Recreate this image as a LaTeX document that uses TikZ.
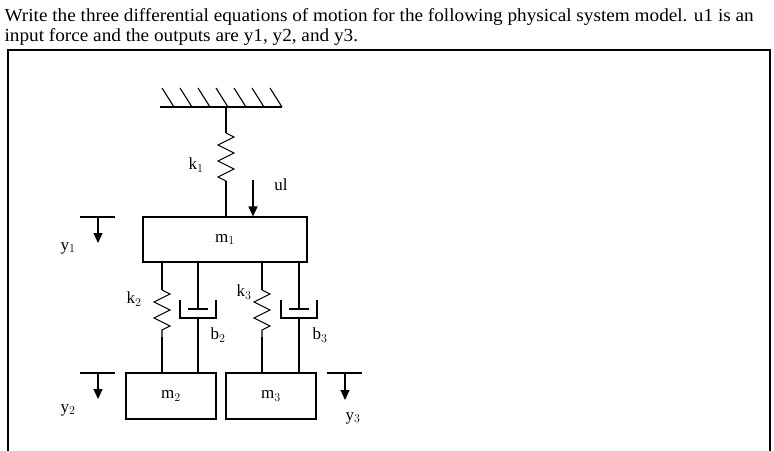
\documentclass[tikz,border=0pt]{standalone}
\usepackage{fontspec}
\setmainfont{Liberation Serif}
\usetikzlibrary{decorations.pathmorphing,arrows.meta}
\begin{document}
\begin{tikzpicture}[x=1pt,y=-1pt,line width=1.1pt,
  mass/.style={draw,inner sep=0pt,font=\fontsize{17}{17}\selectfont},
  lbl/.style={font=\fontsize{17}{17}\selectfont,inner sep=1pt},
  spr/.style={decorate,decoration={zigzag,amplitude=8pt,segment length=16pt}},
  arr/.style={-{Triangle[width=9pt,length=10pt]}},
  ttl/.style={anchor=west,font=\fontsize{18.4}{18.4}\selectfont,inner sep=0pt,xscale=1.045}]
\useasboundingbox (0,0) rectangle (774,450);
\node[ttl] (t1) at (4,17) {Write the three differential equations of motion for the following physical system model. u1 is an};
\node[ttl] (t2) at (4,37) {input force and the outputs are y1, y2, and y3.};
\draw (8,451) -- (8,50) -- (770,50) -- (770,451);
% ground
\coordinate (g1) at (160,107); \coordinate (g2) at (282,107);
\draw (g1) -- (g2);
\foreach \i in {0,...,6} \draw (162+18*\i,88) -- (174+18*\i,107);
% masses
\node[mass,minimum width=164pt,minimum height=45pt] (m1) at (225,239.5) {m$_1$};
\node[mass,minimum width=90pt,minimum height=46pt] (m2) at (171,396) {m$_2$};
\node[mass,minimum width=90pt,minimum height=46pt] (m3) at (271,396) {m$_3$};
% k1
\coordinate (k1t) at (226,107);
\draw (k1t) -- (226,133);
\draw[spr] (226,133) -- (226,181);
\draw (226,181) -- (m1.north -| 226,0);
\node[lbl] (k1) at (196,165) {k$_1$};
% u1
\coordinate (ua) at (253,180);
\draw[arr] (ua) -- (m1.north -| 253,0);
\node[lbl] (u1) at (281,185) {ul};
% y1
\coordinate (y1a) at (80,217); \coordinate (y1b) at (115,217);
\draw (y1a) -- (y1b); \draw[arr] (98,217) -- (98,243);
\node[lbl] (y1) at (68,248) {y$_1$};
% y2
\coordinate (y2a) at (80,373); \coordinate (y2b) at (115,373);
\draw (y2a) -- (y2b); \draw[arr] (98,373) -- (98,399);
\node[lbl] (y2) at (68,410) {y$_2$};
% y3
\coordinate (y3a) at (327,373); \coordinate (y3b) at (362,373);
\draw (y3a) -- (y3b); \draw[arr] (345,373) -- (345,400);
\node[lbl] (y3) at (353,418) {y$_3$};
% springs k2,k3
\foreach \x/\m in {162/m2,262/m3}{
  \draw (m1.south -| \x,0) -- (\x,290);
  \draw[spr] (\x,290) -- (\x,337);
  \draw (\x,337) -- (\m.north -| \x,0);
}
\node[lbl] (k2) at (134,299) {k$_2$};
\node[lbl] (k3) at (244,292) {k$_3$};
% dampers
\foreach \x/\m in {198/m2,299/m3}{
  \draw (m1.south -| \x,0) -- (\x,309);
  \draw (\x-10,309) -- (\x+10,309);
  \draw (\x-18,300) -- (\x-18,318) -- (\x+18,318) -- (\x+18,300);
  \draw (\x,318) -- (\m.north -| \x,0);
}
\node[lbl] (b2) at (218,335) {b$_2$};
\node[lbl] (b3) at (320,335) {b$_3$};
\end{tikzpicture}
\end{document}
